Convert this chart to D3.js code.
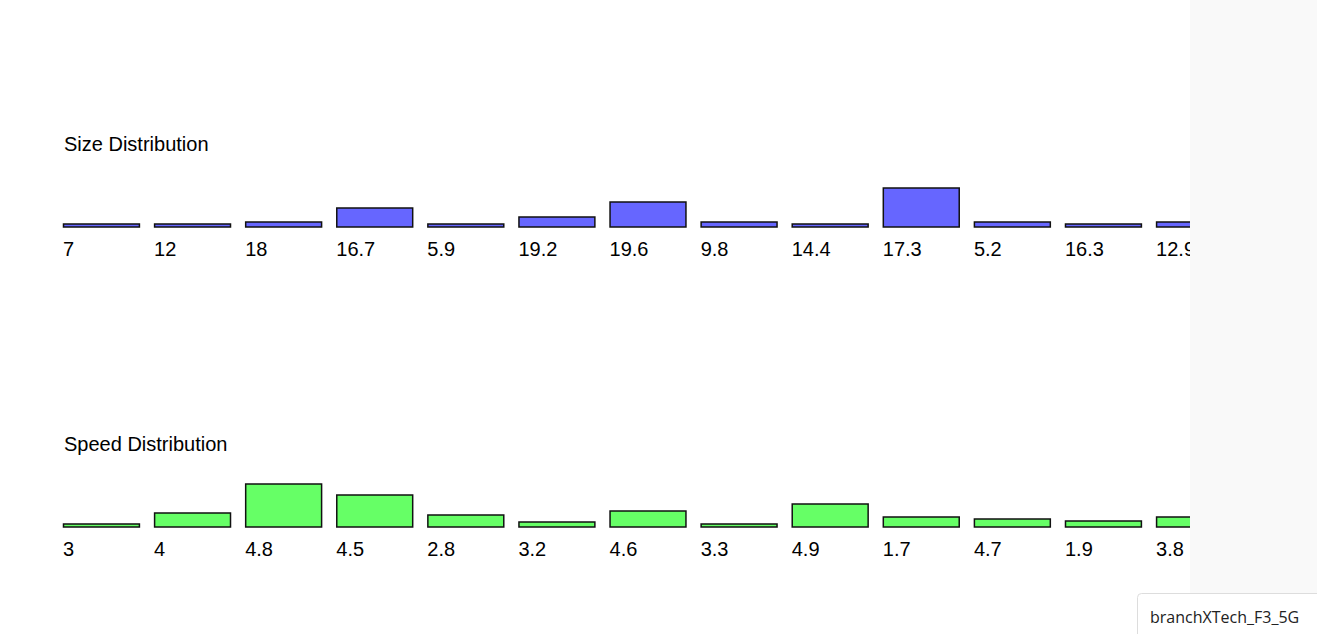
<!DOCTYPE html><html><head><meta charset="utf-8">
<script src="https://cdn.jsdelivr.net/npm/d3@7"></script>
<style>body{margin:0;background:#fff;font-family:"Liberation Sans",Arial,sans-serif;overflow:hidden}</style></head><body>
<script>
const sizeLabels=["7","12","18","16.7","5.9","19.2","19.6","9.8","14.4","17.3","5.2","16.3","12.9"];
const sizeCounts=[3,3,5,19,3,10,25,5,3,39,5,3,5];
const speedLabels=["3","4","4.8","4.5","2.8","3.2","4.6","3.3","4.9","1.7","4.7","1.9","3.8"];
const speedCounts=[3,14,43,32,12,5,16,3,23,10,8,6,10];
const W=1317,H=634;
const svg=d3.select("body").append("svg").attr("width",W).attr("height",H);
svg.append("defs").append("clipPath").attr("id","c").append("rect").attr("x",0).attr("y",0).attr("width",1190).attr("height",H);
const g=svg.append("g").attr("clip-path","url(#c)");
const x=d3.scaleBand().domain(d3.range(13)).range([63,63+90*13]).paddingInner(14/90).paddingOuter(0).align(0);
const h=d3.scaleLinear().domain([0,43]).range([0,43]);
function row(title,labels,counts,base,color){
  g.append("text").attr("x",64).attr("y",base-76).attr("font-size",20).text(title);
  g.selectAll(null).data(counts).join("rect").attr("x",(d,i)=>x(i)+0.5).attr("y",d=>base-h(d)).attr("width",x.bandwidth()-1).attr("height",d=>h(d))
    .attr("fill",color).attr("stroke","#111").attr("stroke-width",1.5);
  g.selectAll(null).data(labels).join("text").attr("x",(d,i)=>x(i)).attr("y",base+29).attr("font-size",20).text(d=>d);
}
row("Size Distribution",sizeLabels,sizeCounts,227,"#6666ff");
row("Speed Distribution",speedLabels,speedCounts,527,"#66ff66");
svg.append("rect").attr("x",1190).attr("y",0).attr("width",127).attr("height",H).attr("fill","#f9f9f9");
svg.append("rect").attr("x",1137.5).attr("y",593.5).attr("width",190).attr("height",60).attr("rx",4).attr("fill","#fff").attr("stroke","#ddd");
svg.append("text").attr("x",1150).attr("y",623).attr("font-size",16).attr("font-family","'Open Sans',sans-serif").attr("fill","#222").text("branchXTech_F3_5G");
</script></body></html>
